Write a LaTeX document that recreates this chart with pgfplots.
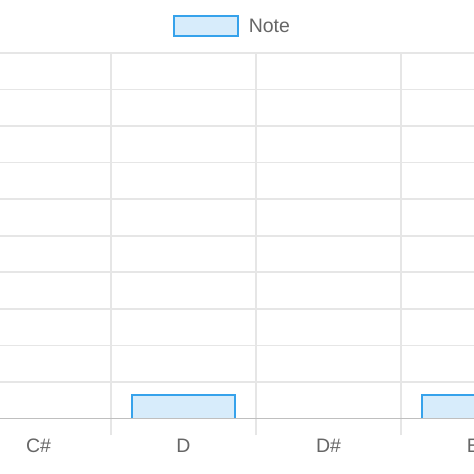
\documentclass[border=0pt]{standalone}
\usepackage{pgfplots}
\pgfplotsset{compat=1.18}
\usepackage{fontspec}
\setmainfont{Liberation Sans}
\definecolor{gridc}{RGB}{230,230,230}
\definecolor{zeroc}{RGB}{191,191,191}
\definecolor{barfill}{RGB}{215,236,251}
\definecolor{barline}{RGB}{54,162,235}
\definecolor{txt}{RGB}{102,102,102}
\begin{document}
\begin{tikzpicture}[x=1pt,y=1pt]
\path[use as bounding box, clip] (0,0) rectangle (474,474);
\begin{axis}[
  at={(-34pt,55.5pt)}, anchor=south west,
  scale only axis, width=580pt, height=365.5pt,
  xmin=-0.5, xmax=3.5, ymin=0, ymax=10,
  ybar, bar width=102.8pt,
  axis on top,
  axis x line*=bottom, axis y line*=left,
  x axis line style={draw=zeroc, line width=1.6pt, -},
  y axis line style={draw=gridc, line width=1.6pt, -},
  xtick={0,1,2,3}, xticklabels={C\#,D,D\#,E},
  minor xtick={-0.5,0.5,1.5,2.5,3.5},
  ytick={1,...,10}, yticklabels={},
  xminorgrids, ymajorgrids,
  grid style={draw=gridc, line width=1.6pt},
  minor grid style={draw=gridc, line width=1.6pt},
  tick align=outside,
  major tick length=0pt, minor tick length=17pt,
  minor tick style={draw=gridc, line width=1.6pt},
  major tick style={draw=none},
  xticklabel style={font=\fontsize{19.5}{20}\selectfont, text=txt, anchor=base, yshift=-34pt},
  legend style={at={(0.3569,1.0739)}, anchor=west, draw=none, fill=none,
    inner sep=0pt, outer sep=0pt, font=\fontsize{19.5}{20}\selectfont, text=txt,
    nodes={inner sep=0pt}, /tikz/every even column/.style={column sep=0pt}},
]
\addplot[fill=barfill, draw=barline, line width=1.6pt,
  legend image code/.code={\draw[fill=barfill, draw=barline, line width=1.6pt] (0.8pt,-9.8pt) rectangle (65.2pt,10.2pt); \path (75pt,0pt);}]
  coordinates {(1,0.65) (3,0.65)};
\addlegendentry{Note}
\end{axis}
\end{tikzpicture}
\end{document}
